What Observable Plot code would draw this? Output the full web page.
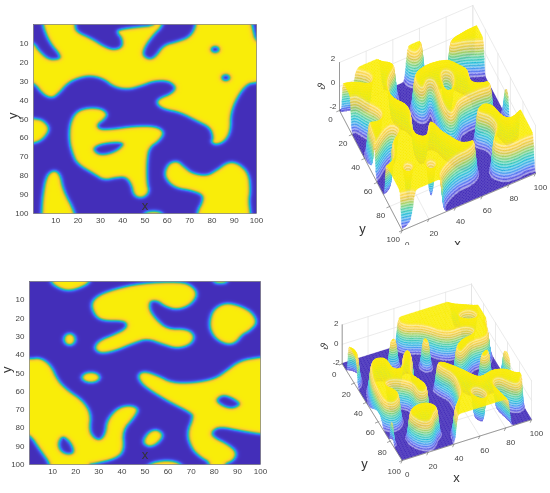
<!DOCTYPE html>
<html><head><meta charset="utf-8">
<style>html,body{margin:0;padding:0;background:#fff}#c{position:relative;width:550px;height:493px;overflow:hidden}</style>
<script src="https://cdn.jsdelivr.net/npm/d3@7"></script>
<script src="https://cdn.jsdelivr.net/npm/@observablehq/plot@0.6"></script>
</head><body><div id="c"></div>
<script>
// Outlines of the high-value phase (x, y in map units)
const topMain=[[3.5,-8],[4,0],[7,9],[12.2,16.2],[11,18.5],[6.3,18.5],[1.8,13.5],[0,10],[-8,5],[-8,28],[0,30.4],[4,36.6],[7.8,38.7],[10.7,36.6],[15.2,30.4],[21.2,27.4],[26.4,26.8],[31.6,28.6],[36.1,32.7],[42.1,34.1],[48,32.2],[54,29.5],[60.7,29.5],[64.2,33],[62.2,36.6],[56.3,39.3],[55.5,41.9],[58.5,44.6],[66,46.3],[73.4,50.8],[79.4,54.3],[80.9,59.6],[80.1,62.3],[82.4,63.5],[86.1,61.4],[88.4,56.1],[88.4,47.2],[91.3,38.4],[95.8,31.3],[100,30.4],[108,29],[108,9],[100,10],[98,0],[97,-8],[72.5,-8],[73.4,0],[70.4,6.5],[64.5,9.1],[58.5,10.9],[54.8,17.1],[51.8,18.5],[48.8,16.2],[49.6,11.8],[53.3,5.6],[58,0],[58.5,-8],[55,-8],[55.5,0.3],[45,1.5],[39,2.6],[37.6,3.8],[39.9,7.3],[39.9,11.8],[36.1,13.5],[31.6,11.8],[25.7,7.3],[19,3.8],[18.2,0],[18,-8]];
const topBump=[[0,49.9],[4,50.8],[7,55.2],[4,60.5],[0,62.8],[-8,63],[-8,49]];
const topG=[[16.3,52.6],[19,46.3],[24.2,44.2],[30.1,44.6],[32.8,47.2],[31.6,49.9],[28.2,52.9],[29.4,55.7],[34.6,55.7],[45.1,54],[54.8,54],[58.5,57],[56.3,61.4],[51.8,65],[50.7,72.1],[50.7,83.6],[51.8,88.9],[48.8,91.9],[45.1,90.7],[44,84.5],[41.3,80.6],[36.9,80.9],[31.6,82.3],[27.2,79.1],[19.7,73.8],[17.5,68.5],[16,61.4]];
const topGHole=[[26.4,65.9],[29.4,63.2],[37.6,62],[40.6,63.2],[37.9,66.7],[33.1,69],[28.7,69]];
const topRight=[[58.8,79.1],[60.7,73.8],[64.5,72.4],[67.5,75.6],[71.2,79.1],[77.9,80.4],[82.4,77.4],[87.6,72.9],[92.1,73.8],[96.6,79.1],[97.3,88],[96.6,93.3],[97.3,100],[98,108],[74,108],[73.4,100],[76.4,93.3],[75.7,89.8],[70.4,87.7],[64.5,86.6],[60.7,83.6]];
const topLeft=[[3.6,100],[4,91.6],[5.5,80.9],[8.5,77.4],[11.5,79.1],[13,88],[18.2,99.5],[19,108],[3.5,108]];
const topSliver=[[49.6,100],[54,99],[57.8,100],[58,104],[50,104]];
const topDots=[[81.6,13,1.8,1.7],[86.4,28,1.8,1.7]];

const botCentre=[[26.6,12.4],[29.2,7.8],[36.5,4.2],[48.1,0.9],[65.4,0],[70.5,2.4],[72.7,6.9],[69.8,12.4],[64,15.1],[58.9,13.3],[55.3,10],[52,10.5],[51.7,15.1],[54.6,20.5],[59.6,26],[68.3,26],[71.5,29.6],[69.8,34.2],[64,36.4],[58.2,34.2],[51,30.9],[45.2,33.3],[36.5,37.8],[30.7,39.1],[28.1,36.4],[30,32.4],[36.5,29.1],[41.5,26],[42.3,22.9],[40.1,21.1],[32.1,21.1],[28.5,18.7]];
const botTopBump=[[9,0],[12.6,3.3],[17,4.7],[22,2.9],[26,0],[26,-6],[9,-6]];
const botTopTiny=[[79.9,0],[82.8,0.7],[85.7,0],[85.7,-6],[79.9,-6]];
const botBlob=[[78.2,21.5],[79.9,15.1],[85,11.5],[91.5,13.3],[96.5,16.9],[98.7,22.4],[95.1,26.9],[92.2,28.7],[89.3,33.3],[85.7,34.2],[81.3,31.5],[78.7,26.9]];
const botLeft=[[0,42.4],[4.6,41.8],[9,46],[11.9,54.2],[16.2,59.6],[22.7,65.1],[26.4,72.4],[25.6,81.5],[27.8,86],[30.7,86.9],[32.9,83.3],[33.6,76],[37.9,69.6],[43,67.8],[47,69.6],[45.2,74.2],[40.1,81.5],[40.8,92.4],[37.2,96.9],[27.8,99.6],[25.6,100],[25.6,108],[9,108],[9,100],[4.6,92.4],[0,83.6],[-8,80],[-8,42]];
const botLeftHole=[[11.9,88.7],[14.1,84.2],[17.7,87.8],[19.4,93.3],[16.9,95],[13.3,93.3]];
const botOval=[[49.1,87.8],[51.7,82.4],[55.3,81.1],[57.9,84.2],[55.3,88.7],[51.7,90.5]];
const botSliver=[[51,100],[59.6,97.8],[66.2,100],[66.2,106],[51,106]];
const botRight=[[47,51.5],[49.5,49.1],[55.3,51.5],[61.8,55.6],[71.2,55.6],[80.6,53.3],[85.7,48.7],[91.5,43.3],[100,41.5],[108,41],[108,84],[100,83.3],[91.5,81.5],[82.8,79.3],[79.2,81.5],[79.2,85.1],[85.7,89.1],[89.7,93.3],[88.6,97.8],[84.2,100],[84,108],[78,108],[78.5,99.1],[74.1,96],[70.5,91.5],[68.3,83.3],[71.2,74.2],[69.8,71.5],[61.1,66],[53.8,60.5],[48.8,56]];
const botRightHole=[[80.6,65.1],[83.5,61.8],[87.9,63.3],[91.8,66.9],[88.6,69.6],[84.2,68.7]];
const botDots=[[17.2,31.5,2.2,2.9],[26.4,52.4,3.6,2.6]];

const mapTicks=[10,20,30,40,50,60,70,80,90,100];
const boxTicks=[0,20,40,60,80,100];
const heightTicks=[-2,0,2];
const parulaStops=["#4228b0","#4752f0","#2797eb","#08b5d0","#31c69f","#81cc59","#dcbd29","#fccf30","#f9f203"];
const parula=d3.piecewise(d3.interpolateRgb,parulaStops);
const LOW=-1.95, HIGH=0.95, EDGE=1.05, BANDS=28;

function chaikin(p,n){for(let k=0;k<n;k++){const q=[];for(let i=0;i<p.length;i++){const a=p[i],b=p[(i+1)%p.length];q.push([a[0]*.75+b[0]*.25,a[1]*.75+b[1]*.25],[a[0]*.25+b[0]*.75,a[1]*.25+b[1]*.75]);}p=q;}return p;}
function ellipse([cx,cy,rx,ry]){return d3.range(14).map(i=>[cx+rx*Math.cos(i/14*2*Math.PI),cy+ry*Math.sin(i/14*2*Math.PI)]);}
function buildField(polys,dots){
  const rings=polys.map(p=>chaikin(p,2)).concat(dots.map(ellipse));
  const S=[];for(const r of rings)for(let i=0;i<r.length;i++){const a=r[i],b=r[(i+1)%r.length];S.push([a[0],a[1],b[0],b[1]]);}
  const N=201,f=new Float64Array(N*N),n=S.length;
  for(let j=0;j<N;j++){const y=j/2;for(let i=0;i<N;i++){const x=i/2;let best=1e9,ins=false;
    for(let k=0;k<n;k++){const s=S[k],ax=s[0],ay=s[1],dx=s[2]-ax,dy=s[3]-ay,px=x-ax,py=y-ay;
      if((ay>y)!==(s[3]>y)&&x<ax+dx*(y-ay)/dy)ins=!ins;
      const l=dx*dx+dy*dy;let t=l?(px*dx+py*dy)/l:0;t=t<0?0:t>1?1:t;const ex=px-t*dx,ey=py-t*dy,d=ex*ex+ey*ey;if(d<best)best=d;}
    const d=Math.sqrt(best)*(ins?1:-1);
    f[j*N+i]=(LOW+HIGH)/2+(HIGH-LOW)/2*Math.tanh(d/EDGE);}}
  return Array.from(f);
}
const fieldTop=buildField([topMain,topBump,topG,topGHole,topRight,topLeft,topSliver],topDots);
const fieldBot=buildField([botCentre,botTopBump,botTopTiny,botBlob,botLeft,botLeftHole,botOval,botSliver,botRight,botRightHole],botDots);

const FONT="'Liberation Sans',Arial,sans-serif", INK="#444";
function mapPanel(field,o){
  const el=Plot.plot({width:o.w,height:o.h,marginLeft:o.l,marginRight:o.w-o.r,marginTop:o.t,marginBottom:o.h-o.b,
    style:{fontFamily:FONT,background:"transparent",filter:"blur(.35px)"},
    x:{domain:[0,100],label:null},y:{domain:[0,100],reverse:true,label:null},
    color:{domain:[-2,1],interpolate:parula,clamp:true},
    marks:[
      Plot.raster(field,{width:201,height:201,x1:0,y1:0,x2:100,y2:100,fill:d=>d}),
      Plot.frame({stroke:"#666",strokeWidth:.6}),
      Plot.axisX({ticks:mapTicks,tickSize:0,tickPadding:o.tx,fontSize:8,color:INK,label:null}),
      Plot.axisY({ticks:mapTicks,tickSize:0,tickPadding:o.ty,fontSize:8,color:INK,label:null}),
      Plot.text(["x"],{frameAnchor:"bottom",dy:o.xdy,fontSize:13,fill:"#333"}),
      Plot.text(["y"],{frameAnchor:"left",dx:o.ydx,rotate:-90,fontSize:13,fill:"#333"})
    ]});
  el.style.cssText+=`;position:absolute;left:0;top:${o.top}px`;
  document.getElementById("c").appendChild(el);
}
mapPanel(fieldTop,{w:275,h:245,l:33,r:256,t:24,b:213,top:0,tx:4,ty:5,xdy:-4,ydx:-21});
mapPanel(fieldBot,{w:275,h:233,l:29,r:260,t:21,b:204,top:260,tx:4,ty:5,xdy:-6,ydx:-23});

function striped(t){
  const k=Math.min(BANDS-1,Math.floor(t*BANDS)),c=parula(t);
  if(k<=0||k>=BANDS-1)return c;
  return d3.interpolateRgb(c,"#fff")(k%2?.5:.1);
}
function surfacePanel(field,o){
  const P=(xp,yp,z)=>[o.F[0]+xp/100*o.Vx[0]+(100-yp)/100*o.Vy[0],
                      o.F[1]+xp/100*o.Vx[1]+(100-yp)/100*o.Vy[1]+(z+2)/4*o.Vz];
  // the surface plots the map transposed: its x is the map's y and its y the map's x
  const Zat=(xp,yp)=>field[(xp*2)*201+(yp*2)];
  const X=[],Y=[],G=[],V=[];let gid=0;
  const emit=(poly,z)=>{gid++;for(const q of poly){const p=P(q[0],q[1],q[2]);X.push(p[0]);Y.push(p[1]);G.push(gid);V.push(z);}};
  const band=z=>Math.max(0,Math.min(BANDS-1,Math.floor((z+2)/3*BANDS)));
  const mid=k=>(k+.5)/BANDS*3-2;
  const clip=(poly,lev,keepAbove)=>{const out=[];for(let i=0;i<poly.length;i++){const a=poly[i],b=poly[(i+1)%poly.length];
    const ia=keepAbove?a[2]>=lev:a[2]<=lev,ib=keepAbove?b[2]>=lev:b[2]<=lev;
    if(ia)out.push(a);
    if(ia!==ib){const t=(lev-a[2])/(b[2]-a[2]);out.push([a[0]+t*(b[0]-a[0]),a[1]+t*(b[1]-a[1]),lev]);}}
    return out;};
  const tri=(a,b,c)=>{const zs=[a[2],b[2],c[2]],k0=band(Math.min(...zs)),k1=band(Math.max(...zs));
    for(let k=k0;k<=k1;k++){let p=[a,b,c];
      if(k>0)p=clip(p,k/BANDS*3-2,true);
      if(p.length&&k<BANDS-1)p=clip(p,(k+1)/BANDS*3-2,false);
      if(p.length>2)emit(p,mid(k));}};
  const S=o.step;
  for(let xp=100-S;xp>=0;xp-=S)for(let yp=0;yp<100;yp+=S){
    const a=[xp,yp,Zat(xp,yp)],b=[xp+S,yp,Zat(xp+S,yp)],c=[xp+S,yp+S,Zat(xp+S,yp+S)],d=[xp,yp+S,Zat(xp,yp+S)];
    const k=band(a[2]);
    if(band(b[2])===k&&band(c[2])===k&&band(d[2])===k)emit([a,b,c,d],mid(k));
    else{tri(a,b,c);tri(a,c,d);}
  }
  const I=d3.range(X.length);
  const seg=[];let sid=0;
  const addSeg=(list,a,b)=>{sid++;const p=P(...a),q=P(...b);list.push({id:sid,x:p[0],y:p[1]},{id:sid,x:q[0],y:q[1]});};
  for(const t of boxTicks){
    addSeg(seg,[t,0,-2],[t,100,-2]);addSeg(seg,[0,t,-2],[100,t,-2]);
    addSeg(seg,[t,0,-2],[t,0,2]);addSeg(seg,[100,t,-2],[100,t,2]);
  }
  for(const z of heightTicks){addSeg(seg,[0,0,z],[100,0,z]);addSeg(seg,[100,0,z],[100,100,z]);}
  const ax=[];
  addSeg(ax,[0,0,-2],[0,100,-2]);addSeg(ax,[0,100,-2],[100,100,-2]);addSeg(ax,[0,0,-2],[0,0,2]);
  for(const t of boxTicks){
    const p=P(t,100,-2),q=P(0,t,-2);
    sid++;ax.push({id:sid,x:p[0],y:p[1]},{id:sid,x:p[0]-1.2,y:p[1]+2.6});
    sid++;ax.push({id:sid,x:q[0],y:q[1]},{id:sid,x:q[0]-2.8,y:q[1]+1.2});
  }
  const lab=(v,f,dx,dy)=>v.map(t=>{const p=f(t);return {t,x:p[0]+dx,y:p[1]+dy};});
  const xl=lab(boxTicks,t=>P(t,100,-2),...o.xOff),yl=lab(boxTicks,t=>P(0,t,-2),...o.yOff),zl=lab(heightTicks,t=>P(0,0,t),...o.zOff);
  const tx={x:"x",y:"y",text:"t",fontSize:8,fill:INK};
  const el=Plot.plot({width:o.w,height:o.h,margin:0,
    style:{fontFamily:FONT,background:"transparent",filter:"blur(.35px)"},
    x:{domain:[0,o.w],range:[0,o.w],axis:null},y:{domain:[0,o.h],range:[0,o.h],axis:null},
    color:{domain:[-2,1],interpolate:striped,clamp:true},
    marks:[
      Plot.line(seg,{x:"x",y:"y",z:"id",stroke:"#e3e3e3",strokeWidth:.7}),
      Plot.line(I,{x:X,y:Y,z:G,fill:V,stroke:V,strokeWidth:.25}),
      Plot.line(ax,{x:"x",y:"y",z:"id",stroke:"#777",strokeWidth:.7}),
      Plot.text(xl,tx),Plot.text(yl,tx),Plot.text(zl,tx),
      Plot.text(["x"],{x:()=>o.xLab[0],y:()=>o.xLab[1],fontSize:13,fill:"#333"}),
      Plot.text(["y"],{x:()=>o.yLab[0],y:()=>o.yLab[1],fontSize:13,fill:"#333"}),
      Plot.text(["\u03D1"],{x:()=>o.zLab[0],y:()=>o.zLab[1],rotate:-75,fontSize:11,fontStyle:"italic",fill:"#333"})
    ]});
  el.style.cssText+=`;position:absolute;left:300px;top:${o.top}px`;
  document.getElementById("c").appendChild(el);
}
surfacePanel(fieldTop,{w:250,h:245,top:0,step:1,F:[101.7,230],Vx:[133.3,-57],Vy:[-62.7,-120],Vz:-48,
  xOff:[5,14],yOff:[-9,9],zOff:[-6.5,-4],xLab:[157,243],yLab:[62,228],zLab:[21,86]});
surfacePanel(fieldBot,{w:250,h:233,top:260,step:1,F:[101.7,200],Vx:[129.3,-40.7],Vy:[-60,-96.7],Vz:-39,
  xOff:[5,14],yOff:[-8,11],zOff:[-6,-1],xLab:[156,217],yLab:[64,203],zLab:[24,86]});
</script></body></html>
